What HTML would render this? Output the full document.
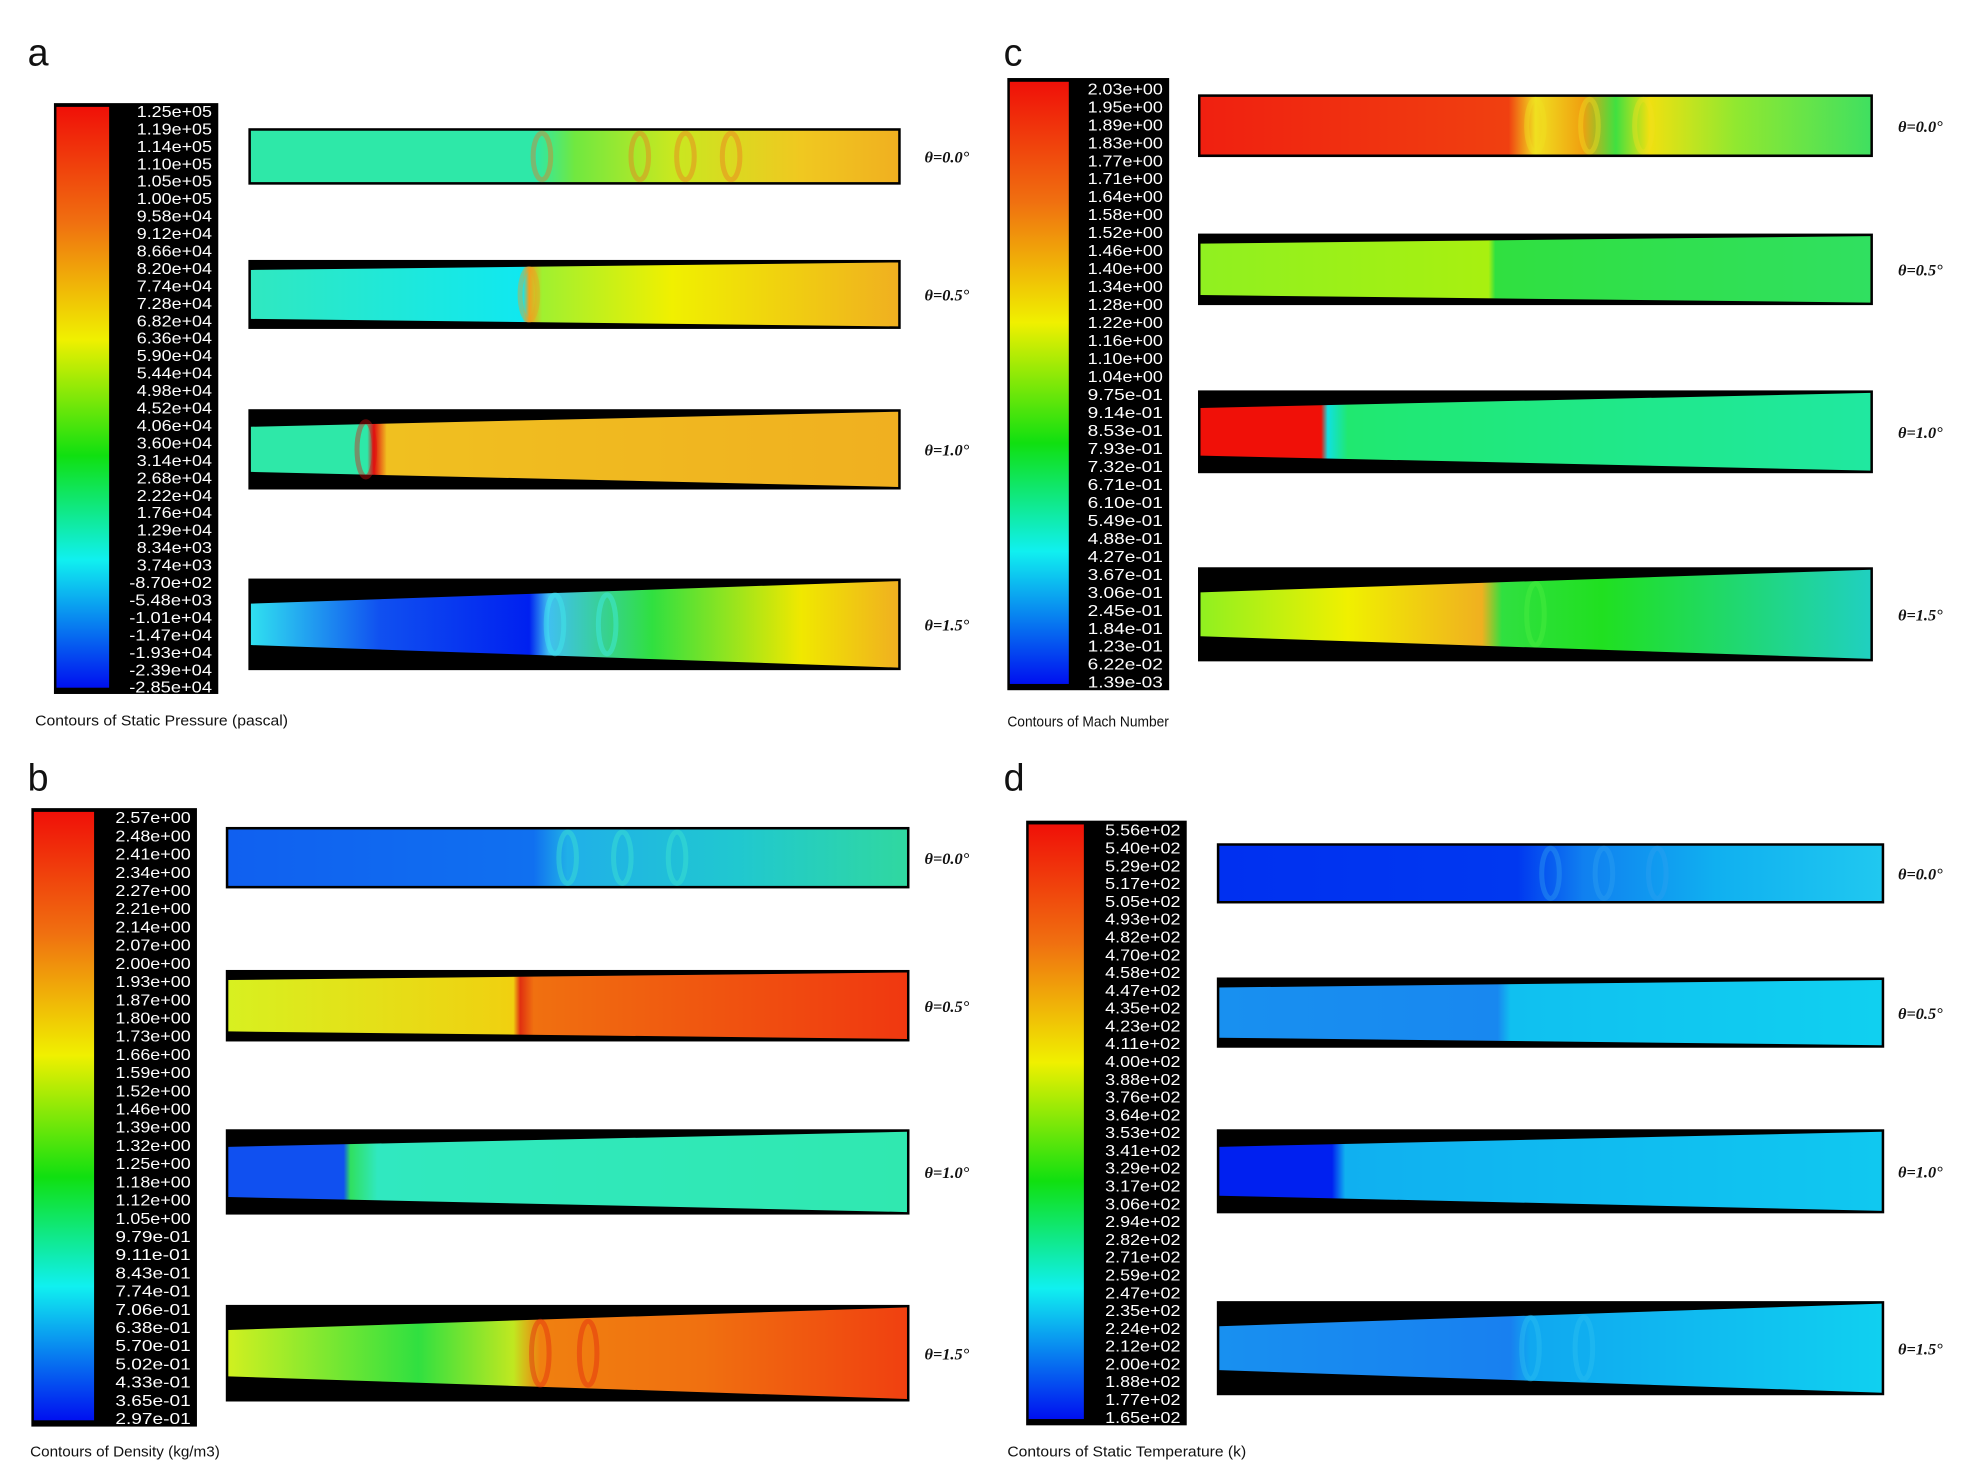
<!DOCTYPE html>
<html><head><meta charset="utf-8">
<style>
html,body{margin:0;padding:0;background:#fff;}
svg{display:block;}
.lab{font-family:"Liberation Sans",sans-serif;fill:#fff;font-size:12.5px;}
.pl{font-family:"Liberation Sans",sans-serif;font-size:30px;fill:#111;}
.tt{font-family:"Liberation Sans",sans-serif;font-size:11.5px;fill:#111;}
.th{font-family:"Liberation Serif",serif;font-size:13px;font-weight:bold;font-style:italic;fill:#111;}
</style></head>
<body>
<svg id="fig" width="1967" height="1472" viewBox="0 0 1568 1173" xmlns="http://www.w3.org/2000/svg">
<defs>
<linearGradient id="cmap" x1="0" y1="0" x2="0" y2="1">
<stop offset="0" stop-color="#f01008"/><stop offset="0.2" stop-color="#f07010"/>
<stop offset="0.4" stop-color="#f0f000"/><stop offset="0.6" stop-color="#10e010"/>
<stop offset="0.78" stop-color="#10f0f0"/><stop offset="1" stop-color="#0010f0"/>
</linearGradient>
</defs>
<g id="root"></g>
</svg>
<script>
const labelsA = ["1.25e+05","1.19e+05","1.14e+05","1.10e+05","1.05e+05","1.00e+05","9.58e+04","9.12e+04","8.66e+04","8.20e+04","7.74e+04","7.28e+04","6.82e+04","6.36e+04","5.90e+04","5.44e+04","4.98e+04","4.52e+04","4.06e+04","3.60e+04","3.14e+04","2.68e+04","2.22e+04","1.76e+04","1.29e+04","8.34e+03","3.74e+03","-8.70e+02","-5.48e+03","-1.01e+04","-1.47e+04","-1.93e+04","-2.39e+04","-2.85e+04"];
const labelsC = ["2.03e+00","1.95e+00","1.89e+00","1.83e+00","1.77e+00","1.71e+00","1.64e+00","1.58e+00","1.52e+00","1.46e+00","1.40e+00","1.34e+00","1.28e+00","1.22e+00","1.16e+00","1.10e+00","1.04e+00","9.75e-01","9.14e-01","8.53e-01","7.93e-01","7.32e-01","6.71e-01","6.10e-01","5.49e-01","4.88e-01","4.27e-01","3.67e-01","3.06e-01","2.45e-01","1.84e-01","1.23e-01","6.22e-02","1.39e-03"];
const labelsB = ["2.57e+00","2.48e+00","2.41e+00","2.34e+00","2.27e+00","2.21e+00","2.14e+00","2.07e+00","2.00e+00","1.93e+00","1.87e+00","1.80e+00","1.73e+00","1.66e+00","1.59e+00","1.52e+00","1.46e+00","1.39e+00","1.32e+00","1.25e+00","1.18e+00","1.12e+00","1.05e+00","9.79e-01","9.11e-01","8.43e-01","7.74e-01","7.06e-01","6.38e-01","5.70e-01","5.02e-01","4.33e-01","3.65e-01","2.97e-01"];
const labelsD = ["5.56e+02","5.40e+02","5.29e+02","5.17e+02","5.05e+02","4.93e+02","4.82e+02","4.70e+02","4.58e+02","4.47e+02","4.35e+02","4.23e+02","4.11e+02","4.00e+02","3.88e+02","3.76e+02","3.64e+02","3.53e+02","3.41e+02","3.29e+02","3.17e+02","3.06e+02","2.94e+02","2.82e+02","2.71e+02","2.59e+02","2.47e+02","2.35e+02","2.24e+02","2.12e+02","2.00e+02","1.88e+02","1.77e+02","1.65e+02"];
const angles = ["θ=0.0°","θ=0.5°","θ=1.0°","θ=1.5°"];
const wedge = [0,6,12,18];

const panels = [
 {id:"a",letter:[22,52],cb:[43,82,131,471],strip:42,labY:[93,552],title:"Contours of Static Pressure (pascal)",tY:578,tX:28,nx:[198,718],ny:[[102,147],[207,262],[326,390],[461,534]],lx:737,labels:labelsA,
  flows:[
   [[0,"#2ee8a8"],[0.44,"#2ee8a8"],[0.5,"#70e840"],[0.65,"#c8e820"],[0.85,"#f0c820"],[1,"#f0b020"]],
   [[0,"#30e8c0"],[0.42,"#10e8f0"],[0.43,"#f0a020"],[0.45,"#a0f030"],[0.65,"#f0f000"],[1,"#f0b020"]],
   [[0,"#2ee8a8"],[0.18,"#2ee8a8"],[0.19,"#e01010"],[0.21,"#f0c020"],[1,"#f0b020"]],
   [[0,"#30e0f0"],[0.2,"#1050f0"],[0.43,"#0020f0"],[0.46,"#40c0f0"],[0.62,"#30e040"],[0.85,"#f0e800"],[1,"#f0b020"]]],
  rings:[[0.45,0.6,0.67,0.74],[0.43],[0.18],[0.47,0.55]],ringC:["#f07020","#f0a020","#e01010","#40f0f0"]},
 {id:"c",letter:[800,52],cb:[803,62,129,488],strip:47,labY:[75,548],title:"Contours of Mach Number",tY:579,tX:803,nx:[955,1493],ny:[[75,125],[186,243],[311,377],[452,527]],lx:1513,labels:labelsC,
  flows:[
   [[0,"#f02010"],[0.46,"#f04010"],[0.5,"#f0e020"],[0.57,"#f0a010"],[0.62,"#40e040"],[0.67,"#f0e010"],[0.8,"#90e830"],[1,"#40e060"]],
   [[0,"#90f020"],[0.43,"#a8f010"],[0.44,"#30e040"],[1,"#30e060"]],
   [[0,"#f01008"],[0.18,"#f01008"],[0.19,"#10e0e0"],[0.22,"#20e870"],[1,"#20e8a0"]],
   [[0,"#90f020"],[0.22,"#f0f000"],[0.42,"#f0b020"],[0.45,"#30e040"],[0.6,"#20e020"],[1,"#20d0c0"]]],
  rings:[[0.5,0.58,0.66],[],[],[0.5]],ringC:["#f0e020","","","#50f040"]},
 {id:"b",letter:[22,630],cb:[25,644,132,493],strip:48,labY:[656,1135],title:"Contours of Density (kg/m3)",tY:1161,tX:24,nx:[180,725],ny:[[659,708],[773,830],[900,968],[1040,1117]],lx:737,labels:labelsB,
  flows:[
   [[0,"#1060f0"],[0.45,"#1070f0"],[0.5,"#20b0e8"],[0.75,"#20c8d0"],[1,"#30d8a0"]],
   [[0,"#d8f020"],[0.42,"#f0d010"],[0.43,"#e03010"],[0.45,"#f07010"],[1,"#f03810"]],
   [[0,"#1050f0"],[0.17,"#1050f0"],[0.18,"#30e060"],[0.22,"#30e8c0"],[1,"#30e8b0"]],
   [[0,"#d0f020"],[0.28,"#30e040"],[0.42,"#c0e820"],[0.46,"#f08010"],[0.7,"#f07010"],[1,"#f04010"]]],
  rings:[[0.5,0.58,0.66],[],[],[0.46,0.53]],ringC:["#40e8d0","","","#e02010"]},
 {id:"d",letter:[800,630],cb:[818,654,128,482],strip:44,labY:[666,1134],title:"Contours of Static Temperature (k)",tY:1161,tX:803,nx:[970,1502],ny:[[672,720],[779,835],[900,967],[1037,1112]],lx:1513,labels:labelsD,
  flows:[
   [[0,"#0030f0"],[0.45,"#0038f0"],[0.55,"#1080f0"],[0.75,"#10b0f0"],[1,"#20c8f0"]],
   [[0,"#1890f0"],[0.42,"#1888f0"],[0.44,"#10c0f0"],[1,"#10d0f0"]],
   [[0,"#0020f0"],[0.17,"#0020f0"],[0.19,"#10b0f0"],[1,"#10c8f0"]],
   [[0,"#1890f0"],[0.44,"#1880f0"],[0.47,"#10a8f0"],[1,"#10d0f0"]]],
  rings:[[0.5,0.58,0.66],[],[],[0.47,0.55]],ringC:["#30a0f0","","","#30c0f0"]}
];

const NS="http://www.w3.org/2000/svg";
const root=document.getElementById("root");
function mk(tag,attrs,parent){const e=document.createElementNS(NS,tag);for(const k in attrs)e.setAttribute(k,attrs[k]);(parent||root).appendChild(e);return e;}
const defs=document.querySelector("defs");

panels.forEach(p=>{
  const g=mk("g",{});
  
  
  const L=mk("text",{x:p.letter[0],y:p.letter[1],class:"pl"},g);L.textContent=p.id;
  
  
  const [cx,cy,cw,ch]=p.cb;
  const cbg=mk("g",{},g);
  
  
  mk("rect",{x:cx,y:cy,width:cw,height:ch,fill:"#000"},cbg);
  mk("rect",{x:cx+2,y:cy+3,width:p.strip,height:ch-8,fill:"url(#cmap)"},cbg);
  const n=p.labels.length;
  p.labels.forEach((s,i)=>{
    const y=p.labY[0]+(p.labY[1]-p.labY[0])*i/(n-1);
    const t=mk("text",{x:cx+cw-5,y:y,"text-anchor":"end",class:"lab",textLength:s.startsWith("-")?66:60,lengthAdjust:"spacingAndGlyphs"},cbg);
    t.textContent=s;
    
    
  });
  const T=mk("text",{x:p.tX,y:p.tY,class:"tt",textLength:p.title.length*5.6,lengthAdjust:"spacingAndGlyphs"},g);T.textContent=p.title;
  
  
  p.ny.forEach((yy,k)=>{
    const x0=p.nx[0],x1=p.nx[1],y0=yy[0],y1=yy[1];
    const ng=mk("g",{},g);
    
    
    const gid="f"+p.id+k;
    const lg=mk("linearGradient",{id:gid,x1:0,y1:0,x2:1,y2:0},defs);
    p.flows[k].forEach(s=>mk("stop",{offset:s[0],"stop-color":s[1]},lg));
    mk("rect",{x:x0,y:y0,width:x1-x0,height:y1-y0,fill:"#000"},ng);
    const w=wedge[k],b=2;
    mk("polygon",{points:`${x0+b},${y0+b+w} ${x1-b},${y0+b} ${x1-b},${y1-b} ${x0+b},${y1-b-w}`,fill:`url(#${gid})`},ng);
    (p.rings[k]||[]).forEach(r=>{
      const rx=x0+(x1-x0)*r;
      mk("ellipse",{cx:rx,cy:(y0+y1)/2,rx:7,ry:(y1-y0)/2-w*0.5-4,fill:"none",stroke:p.ringC[k],"stroke-width":4,opacity:0.4},ng);
    });
    const a=mk("text",{x:p.lx,y:(y0+y1)/2+5,class:"th"},g);a.textContent=angles[k];
    
    
  });
});
</script>
</body></html>
